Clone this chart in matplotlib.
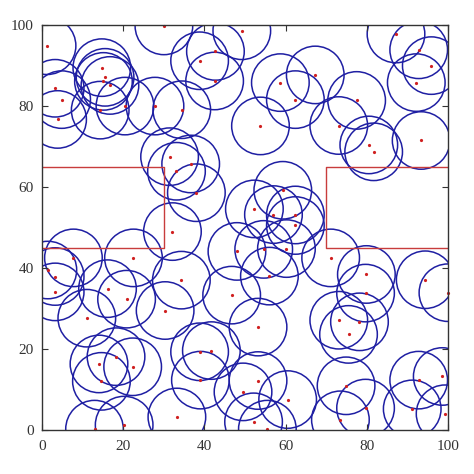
import matplotlib
matplotlib.use("Agg")
import matplotlib.pyplot as plt
from matplotlib.patches import Circle

# node positions (sensor centres)
node_x = [30.0, 1.2, 49.2, 14.7, 15.5, 15.1, 16.7, 3.2, 4.8, 3.8, 14.3, 20.4, 27.8, 34.4,
          38.8, 42.7, 42.5, 31.4, 36.6, 33.1, 38.0,
          87.2, 92.8, 95.9, 92.2, 58.7, 67.3, 62.4, 77.5, 53.8, 73.1, 80.5, 81.7, 93.4,
          59.3, 52.3, 57.0, 62.4, 62.4,
          32.1, 7.7, 22.5, 1.4, 3.2, 3.2, 16.1, 20.8, 34.3, 30.3, 11.0, 48.0, 46.7,
          18.2, 14.0, 22.3, 14.6, 38.8, 41.7, 39.0, 49.5, 33.2, 12.9, 20.2,
          54.6, 60.2, 56.0, 71.1, 79.9, 79.7, 94.4, 100.0,
          53.2, 73.1, 78.2, 75.5, 53.2, 60.5, 52.1, 55.5,
          74.9, 73.5, 79.7, 92.8, 98.6, 91.2, 99.3]
node_y = [99.8, 94.9, 98.6, 89.5, 87.1, 86.1, 85.1, 84.4, 81.6, 76.7, 79.0, 80.0, 80.0, 79.1,
          91.2, 93.5, 86.2, 67.5, 65.7, 63.9, 58.6,
          97.8, 93.9, 90.0, 85.8, 85.8, 87.7, 81.6, 81.4, 75.1, 75.2, 70.4, 68.7, 71.5,
          59.2, 54.6, 53.2, 53.1, 50.5,
          49.0, 42.5, 42.5, 39.5, 37.9, 34.1, 34.9, 32.3, 37.0, 29.5, 27.6, 44.1, 33.3,
          18.1, 16.3, 15.6, 12.0, 19.3, 19.6, 12.3, 9.4, 3.2, 0.2, 1.2,
          44.6, 44.8, 38.0, 42.5, 38.4, 33.8, 37.1, 33.9,
          25.4, 27.1, 26.7, 23.6, 12.2, 7.5, 2.0, 0.2,
          10.9, 2.5, 5.4, 12.3, 13.2, 5.2, 4.0]
sense_radius = 7.1

# obstacle outlines
obs_left_x = [0, 30, 30, 0]
obs_left_y = [65, 65, 45, 45]
obs_right_x = [100, 70, 70, 100]
obs_right_y = [65, 65, 45, 45]

ticks = [0, 20, 40, 60, 80, 100]

fig = plt.figure(figsize=(4.74, 4.74), dpi=100)
ax = fig.add_axes([0.089, 0.093, 0.856, 0.854])

for x, y in zip(node_x, node_y):
    ax.add_patch(Circle((x, y), sense_radius, fill=False,
                        edgecolor="#1f1fa3", linewidth=1.1))

ax.plot(obs_left_x, obs_left_y, color="#c83c3c", linewidth=1.0)
ax.plot(obs_right_x, obs_right_y, color="#c83c3c", linewidth=1.0)

ax.plot(node_x, node_y, "o", color="#d02020", markersize=2.3,
        markeredgewidth=0, clip_on=False)

ax.set_xlim(0, 100)
ax.set_ylim(0, 100)
ax.set_xticks(ticks)
ax.set_yticks(ticks)
ax.tick_params(direction="in", top=True, right=True, length=4,
               width=0.8, labelsize=11, colors="#333333")
ax.tick_params(axis="x", pad=7)
ax.tick_params(axis="y", pad=6)
for lbl in ax.get_xticklabels() + ax.get_yticklabels():
    lbl.set_family("Liberation Serif")
for sp in ax.spines.values():
    sp.set_color("#333333")
    sp.set_linewidth(1.0)

plt.savefig("out.png", dpi=100)
